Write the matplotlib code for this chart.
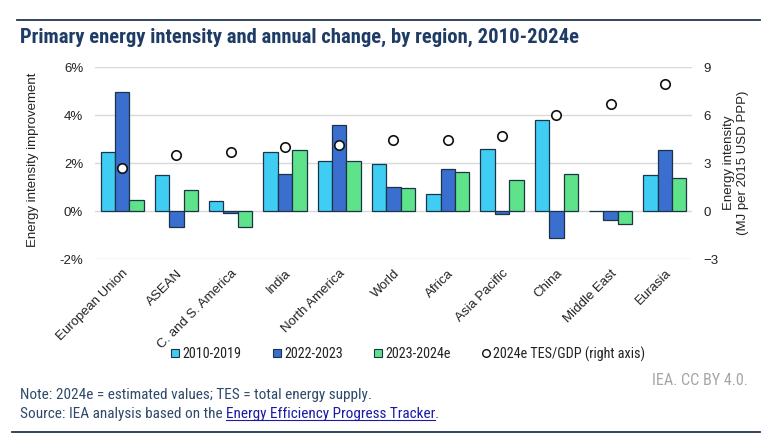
import matplotlib
matplotlib.use("Agg")
import matplotlib.pyplot as plt
import numpy as np
from matplotlib.lines import Line2D
from matplotlib import font_manager as fm

categories = ["European Union", "ASEAN", "C. and S. America", "India", "North America",
              "World", "Africa", "Asia Pacific", "China", "Middle East", "Eurasia"]
s_2010_2019 = [2.47, 1.50, 0.40, 2.47, 2.07, 1.96, 0.71, 2.60, 3.79, 0.02, 1.50]
s_2022_2023 = [4.95, -0.68, -0.10, 1.56, 3.58, 0.99, 1.74, -0.14, -1.11, -0.38, 2.54]
s_2023_2024e = [0.47, 0.89, -0.68, 2.53, 2.07, 0.97, 1.64, 1.31, 1.53, -0.54, 1.40]
tes_gdp_2024e = [2.67, 3.54, 3.67, 4.04, 4.12, 4.46, 4.46, 4.69, 6.00, 6.73, 7.96]
left_ticks = [-2, 0, 2, 4, 6]
right_ticks = [-3, 0, 3, 6, 9]
series_labels = ["2010-2019", "2022-2023", "2023-2024e", "2024e TES/GDP (right axis)"]

c_light = "#40CDF4"
c_dark = "#3A6FCF"
c_green = "#5EE38B"
edge = "#1d3346"

# pick a narrow font if one is installed
names = {f.name for f in fm.fontManager.ttflist}
narrow_font = None
narrow_stretch = "normal"
for cand in ["Liberation Sans Narrow", "Arial Narrow", "Roboto Condensed", "Open Sans Condensed"]:
    if cand in names:
        narrow_font = cand
        break
if narrow_font is None:
    for f in fm.fontManager.ttflist:
        if f.name in ("Roboto", "Open Sans", "DejaVu Sans") and str(f.stretch) in ("condensed", "semi-condensed", "75", "87.5"):
            narrow_font = f.name
            narrow_stretch = "condensed"
            break
if narrow_font is None:
    narrow_font = "Liberation Sans"
narrow = [narrow_font, "Liberation Sans", "DejaVu Sans"]

plt.rcParams["font.family"] = ["Liberation Sans", "DejaVu Sans"]

fig = plt.figure(figsize=(7.71, 4.44), dpi=100)
W, H = 771, 444
ax = fig.add_axes([95/W, 1-259/H, (692-95)/W, (259-67.3)/H])
ax2 = ax.twinx()

x = np.arange(len(categories))
w = 0.265
for off, vals, col in [(-w, s_2010_2019, c_light), (0, s_2022_2023, c_dark), (w, s_2023_2024e, c_green)]:
    ax.bar(x + off, vals, width=w, color=col, edgecolor=edge, linewidth=0.9, zorder=3)

ax.set_ylim(-2, 6)
ax.set_yticks(left_ticks)
ax.set_yticklabels([f"{t}%" for t in left_ticks])
ax.set_xlim(-0.5, len(categories) - 0.5)
ax.set_xticks(x)
ax.set_xticklabels(categories, rotation=45, ha="right", rotation_mode="anchor")
ax.grid(axis="y", color="#d9d9d9", linewidth=1, zorder=0)
ax.set_axisbelow(True)
ax.tick_params(axis="both", length=0, labelsize=9.5, colors="#222222")
ax.tick_params(axis="y", pad=8.5)
ax.tick_params(axis="x", pad=6)
for sp in ax.spines.values():
    sp.set_visible(False)
ax.set_ylabel("Energy intensity improvement", fontsize=9.5, color="#222222", va="center", ha="center")
ax.yaxis.set_label_coords((33-95)/597, 0.52)

ax2.plot(x, tes_gdp_2024e, linestyle="none", marker="o", markersize=6.8,
         markerfacecolor="white", markeredgecolor="#111111", markeredgewidth=1.2, zorder=5)
ax2.set_ylim(-3, 9)
ax2.set_yticks(right_ticks)
ax2.tick_params(axis="y", length=0, labelsize=9.5, colors="#222222", pad=8)
for sp in ax2.spines.values():
    sp.set_visible(False)
ax2.set_ylabel("Energy intensity\n(MJ per 2015 USD PPP)", fontsize=9.5, color="#222222", va="center", ha="center")
ax2.yaxis.set_label_coords((736-95)/597, 0.5)
ax.set_zorder(1)
ax.patch.set_visible(False)
ax2.set_zorder(2)

r = fig.canvas.get_renderer()


def px_width(artist):
    return artist.get_window_extent(r).width


def fit_text(t, target):
    for _ in range(3):
        t.set_fontsize(t.get_fontsize() * target / px_width(t))


handles = [Line2D([], [], linestyle="none", marker="s", markersize=6, markerfacecolor=c_light, markeredgecolor=edge, markeredgewidth=0.8),
           Line2D([], [], linestyle="none", marker="s", markersize=6, markerfacecolor=c_dark, markeredgecolor=edge, markeredgewidth=0.8),
           Line2D([], [], linestyle="none", marker="s", markersize=6, markerfacecolor=c_green, markeredgecolor=edge, markeredgewidth=0.8),
           Line2D([], [], linestyle="none", marker="o", markersize=5.5, markerfacecolor="white", markeredgecolor="#111111", markeredgewidth=1.0)]
leg_size = 10.5
leg_kw = dict(loc="center", bbox_to_anchor=(408/W, 1-354/H), ncol=4,
              frameon=False, handlelength=0.6, handletextpad=0.2, columnspacing=2.2,
              borderpad=0, borderaxespad=0, labelcolor="#222222")
for _ in range(3):
    leg = fig.legend(handles, series_labels,
                     prop={"family": narrow, "stretch": narrow_stretch, "size": leg_size}, **leg_kw)
    wid = leg.get_window_extent(r).width
    leg.remove()
    leg_size *= 474 / wid
leg = fig.legend(handles, series_labels,
                 prop={"family": narrow, "stretch": narrow_stretch, "size": leg_size}, **leg_kw)

# header / footer
fig.add_artist(Line2D([17/W, 760/W], [1-20/H, 1-20/H], color="#22364f", linewidth=1.3))
fig.add_artist(Line2D([12/W, 760/W], [1-432/H, 1-432/H], color="#22364f", linewidth=1.3))
title = fig.text(20/W, 1-37/H, "Primary energy intensity and annual change, by region, 2010-2024e",
                 fontsize=13, fontweight="bold", color="#1f3c66", family=narrow, stretch=narrow_stretch,
                 va="center", ha="left")
fit_text(title, 558)
iea = fig.text(748/W, 1-380/H, "IEA. CC BY 4.0.", fontsize=10, color="#a6a6a6", family=narrow,
               stretch=narrow_stretch, va="center", ha="right")
fit_text(iea, 97)
note_col = "#2e4a6b"
note = fig.text(20/W, 1-395/H, "Note: 2024e = estimated values; TES = total energy supply.",
                fontsize=10, color=note_col, family=narrow, stretch=narrow_stretch, va="center", ha="left")
fit_text(note, 351)
fs = note.get_fontsize()
t1 = fig.text(20/W, 1-414/H, "Source: IEA analysis based on the ",
              fontsize=fs, color=note_col, family=narrow, stretch=narrow_stretch, va="center", ha="left")
bb = t1.get_window_extent(r)
x1 = bb.x1 / W
t2 = fig.text(x1, 1-414/H, "Energy Efficiency Progress Tracker", fontsize=fs, color="#1a1aa6",
              family=narrow, stretch=narrow_stretch, va="center", ha="left")
bb2 = t2.get_window_extent(r)
x2 = bb2.x1 / W
fig.text(x2, 1-414/H, ".", fontsize=fs, color=note_col, family=narrow, stretch=narrow_stretch, va="center", ha="left")
uy = (bb2.y0 + 1.0) / H
fig.add_artist(Line2D([x1, x2], [uy, uy], color="#1a1aa6", linewidth=0.8))

fig.savefig("out.png", dpi=100)
